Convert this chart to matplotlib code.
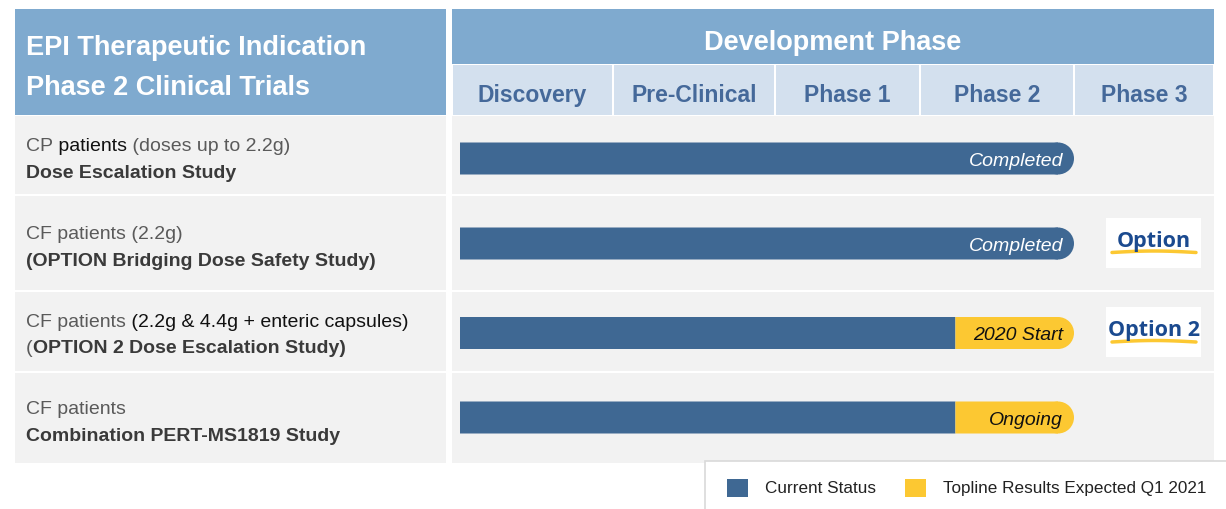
import numpy as np
import matplotlib
matplotlib.use("Agg")
import matplotlib.pyplot as plt
from matplotlib.patches import Rectangle, Circle

# ---------------- data ----------------
left_title = ["EPI Therapeutic Indication", "Phase 2 Clinical Trials"]
top_title = "Development Phase"
phases = ["Discovery", "Pre-Clinical", "Phase 1", "Phase 2", "Phase 3"]

# each row: line 1 segments (text, style), line 2 segments
row_line1 = [
    [("CP", "gray"), (" patients", "black"), (" (doses up to 2.2g)", "gray")],
    [("CF patients", "gray"), (" (2.2g)", "gray")],
    [("CF patients", "gray"), (" (2.2g & 4.4g + enteric capsules)", "black")],
    [("CF patients", "gray")],
]
row_line2 = [
    [("Dose Escalation Study", "bold")],
    [("(OPTION Bridging Dose Safety Study)", "bold")],
    [("(", "gray"), ("OPTION 2 Dose Escalation Study)", "bold")],
    [("Combination PERT-MS1819 Study", "bold")],
]
# progress expressed in phase units (0 = start of Discovery, 4 = end of Phase 2)
bar_total_end = [4.0, 4.0, 4.0, 4.0]
current_status_end = [4.0, 4.0, 3.23, 3.23]
bar_labels = ["Completed", "Completed", "2020 Start", "Ongoing"]
logos = [None, "Option", "Option 2", None]
legend_labels = ["Current Status", "Topline Results Expected Q1 2021"]

# ---------------- style / layout ----------------
HEAD = "#7FAACF"
SUB = "#D3E0EE"
ROWBG = "#F2F2F2"
BLUE = "#3F6893"
YELLOW = "#FCC832"
PHASE_TXT = "#45699A"
GRAY = "#5A5A5A"
DARK = "#3A3A3A"
BLACK = "#111111"

FONT = "Liberation Sans"
plt.rcParams["font.family"] = [FONT, "DejaVu Sans"]

col_edges = [452, 613, 775, 920, 1074, 1214]   # x pixel edges of phase columns
row_edges = [(117, 195), (197, 291), (293, 372), (374, 464)]
bar_yc = [159.5, 244.5, 334, 418.5]
text_y = [(147, 174), (235, 262), (323, 349), (410, 437)]
bar_h = 32
bar_inset = 8

def phase_to_x(p):
    return np.interp(p, np.arange(len(col_edges)), col_edges)

fig = plt.figure(figsize=(12.26, 5.10), dpi=100)
ax = fig.add_axes([0, 0, 1, 1])
ax.set_xlim(0, 1226)
ax.set_ylim(510, 0)
ax.axis("off")

# headers
ax.add_patch(Rectangle((15, 10), 431, 106, color=HEAD, lw=0))
ax.add_patch(Rectangle((452, 10), 762, 54.5, color=HEAD, lw=0))
for i in range(len(phases)):
    ax.add_patch(Rectangle((col_edges[i] + 1, 66), col_edges[i + 1] - col_edges[i] - 2, 50,
                           color=SUB, lw=0))
    ax.text((col_edges[i] + col_edges[i + 1]) / 2, 95.5, phases[i], ha="center", va="center",
            fontsize=16.5, fontweight="bold", color=PHASE_TXT)
ax.text(26, 48, left_title[0], ha="left", va="center", fontsize=19.5, fontweight="bold", color="white")
ax.text(26, 88, left_title[1], ha="left", va="center", fontsize=19.5, fontweight="bold", color="white")
ax.text((452 + 1214) / 2, 42.5, top_title, ha="center", va="center", fontsize=19.5,
        fontweight="bold", color="white")

def seg_style(kind):
    if kind == "bold":
        return dict(color=DARK, fontweight="bold")
    if kind == "black":
        return dict(color=BLACK)
    return dict(color=GRAY)

def draw_line(x, y, segs):
    prev = None
    for txt, kind in segs:
        st = seg_style(kind)
        if prev is None:
            prev = ax.text(x, y, txt, ha="left", va="center", fontsize=14, **st)
        else:
            prev = ax.annotate(txt, xy=(1, 0), xycoords=prev, ha="left", va="bottom",
                               fontsize=14, **st)

for i, (y0, y1) in enumerate(row_edges):
    ax.add_patch(Rectangle((15, y0), 431, y1 - y0, color=ROWBG, lw=0))
    ax.add_patch(Rectangle((452, y0), 762, y1 - y0, color=ROWBG, lw=0))
    draw_line(26, text_y[i][0], row_line1[i])
    draw_line(26, text_y[i][1], row_line2[i])

    # bars
    yb = bar_yc[i]
    x0 = phase_to_x(0) + bar_inset
    xe = phase_to_x(bar_total_end[i])
    xc = phase_to_x(current_status_end[i])
    r = bar_h / 2
    if xc < xe:
        ax.barh(yb, xc - x0, left=x0, height=bar_h, color=BLUE, lw=0, snap=False)
        ax.barh(yb, xe - r - xc, left=xc, height=bar_h, color=YELLOW, lw=0, snap=False)
        ax.add_patch(Circle((xe - r, yb), r, color=YELLOW, lw=0, snap=False))
        tcol = "#111111"
    else:
        ax.barh(yb, xe - r - x0, left=x0, height=bar_h, color=BLUE, lw=0, snap=False)
        ax.add_patch(Circle((xe - r, yb), r, color=BLUE, lw=0, snap=False))
        tcol = "white"
    ax.text(xe - 11, yb + 2, bar_labels[i], ha="right", va="center", fontsize=14,
            style="italic", color=tcol)

    # logos
    if logos[i]:
        yc = yb - 1
        ax.add_patch(Rectangle((1106, yc - 25), 95, 50, color="white", lw=0))
        xs = np.linspace(1112, 1196, 30)
        ys = yc + 10 - 1.5 * np.sin((xs - 1112) / 84 * np.pi)
        ax.plot(xs, ys, color=YELLOW, lw=2.5, solid_capstyle="round", zorder=2)
        ax.text(1153.5, yc - 2, logos[i], ha="center", va="center", fontsize=15.5,
                fontweight="bold", color="#1B4A8F", family=["Open Sans", "DejaVu Sans"],
                zorder=3)

# legend box
ax.add_patch(Rectangle((705, 462), 530, 60, facecolor="white", edgecolor="#D9D9D9", lw=1.2))
ax.add_patch(Rectangle((727, 480), 21, 18, color=BLUE, lw=0))
ax.text(765, 489, legend_labels[0], ha="left", va="center", fontsize=12.3, color="#222222")
ax.add_patch(Rectangle((905, 480), 21, 18, color=YELLOW, lw=0))
ax.text(943, 489, legend_labels[1], ha="left", va="center", fontsize=12.3, color="#222222")

fig.savefig("out.png", dpi=100)
